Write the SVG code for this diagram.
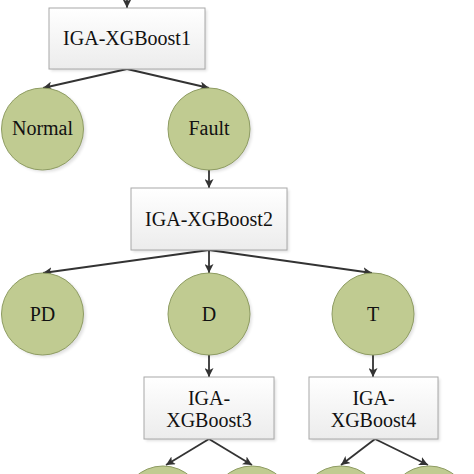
<svg xmlns="http://www.w3.org/2000/svg" width="474" height="474" viewBox="0 0 474 474">
<style>
.box{fill:url(#bg);stroke:#a8a8a8;stroke-width:1}
.circ{fill:#c0cb91;stroke:#8e9c62;stroke-width:1}
.sh{fill:#000;opacity:0.12}
text{font-family:"Liberation Serif","Times New Roman",serif;font-size:20px;fill:#111;text-anchor:middle}
.edge{stroke:#333;stroke-width:1.8;fill:none;marker-end:url(#ah)}
</style>
<defs>
<linearGradient id="bg" x1="0" y1="0" x2="0" y2="1">
<stop offset="0" stop-color="#ffffff"/>
<stop offset="1" stop-color="#ececec"/>
</linearGradient>
<marker id="ah" viewBox="0 0 10 10" refX="10" refY="5" markerWidth="9" markerHeight="9" markerUnits="userSpaceOnUse" orient="auto">
<path d="M0,0 L10,5 L0,10 L2.5,5 z" fill="#333"/>
</marker>
<filter id="blur" x="-20%" y="-20%" width="140%" height="140%"><feGaussianBlur stdDeviation="1.5"/></filter>
</defs>
<g id="connectors">
<line class="edge" x1="127" y1="-2" x2="127" y2="8"/>
<line class="edge" x1="127" y1="69" x2="43" y2="88"/>
<line class="edge" x1="127" y1="69" x2="209" y2="88"/>
<line class="edge" x1="209" y1="170" x2="209" y2="188"/>
<line class="edge" x1="209" y1="250" x2="43" y2="273"/>
<line class="edge" x1="209" y1="250" x2="209" y2="273"/>
<line class="edge" x1="209" y1="250" x2="372" y2="273"/>
<line class="edge" x1="209" y1="355" x2="209" y2="377"/>
<line class="edge" x1="373" y1="355" x2="373" y2="377"/>
<line class="edge" x1="209" y1="439" x2="166" y2="465"/>
<line class="edge" x1="209" y1="439" x2="252" y2="465"/>
<line class="edge" x1="375" y1="439" x2="341" y2="465"/>
<line class="edge" x1="375" y1="439" x2="428" y2="465"/>
</g>
<g id="box1">
<rect class="sh" x="51" y="10" width="156" height="61" filter="url(#blur)"/>
<rect class="box" x="49" y="8" width="156" height="61"/>
<text x="127" y="45">IGA-XGBoost1</text>
</g>
<g id="normal">
<circle class="sh" cx="45" cy="131" r="41" filter="url(#blur)"/>
<circle class="circ" cx="42.5" cy="129" r="41"/>
<text x="42.5" y="135">Normal</text>
</g>
<g id="fault">
<circle class="sh" cx="211" cy="131" r="41" filter="url(#blur)"/>
<circle class="circ" cx="209" cy="129" r="41"/>
<text x="209" y="135">Fault</text>
</g>
<g id="box2">
<rect class="sh" x="133" y="190" width="156" height="62" filter="url(#blur)"/>
<rect class="box" x="131" y="188" width="156" height="62"/>
<text x="209" y="226">IGA-XGBoost2</text>
</g>
<g id="pd">
<circle class="sh" cx="45" cy="316" r="41" filter="url(#blur)"/>
<circle class="circ" cx="42.5" cy="314" r="41"/>
<text x="42.5" y="321">PD</text>
</g>
<g id="d">
<circle class="sh" cx="211" cy="316" r="41" filter="url(#blur)"/>
<circle class="circ" cx="209" cy="314" r="41"/>
<text x="209" y="321">D</text>
</g>
<g id="t">
<circle class="sh" cx="375" cy="316" r="41" filter="url(#blur)"/>
<circle class="circ" cx="373" cy="314" r="41"/>
<text x="373" y="321">T</text>
</g>
<g id="box3">
<rect class="sh" x="146" y="379" width="130" height="62" filter="url(#blur)"/>
<rect class="box" x="144" y="377" width="130" height="62"/>
<text x="209" y="405">IGA-</text>
<text x="209" y="427">XGBoost3</text>
</g>
<g id="box4">
<rect class="sh" x="311" y="379" width="129" height="62" filter="url(#blur)"/>
<rect class="box" x="309" y="377" width="129" height="62"/>
<text x="373.5" y="405">IGA-</text>
<text x="373.5" y="427">XGBoost4</text>
</g>
<g id="leaf1"><circle class="circ" cx="163" cy="507" r="41"/></g>
<g id="leaf2"><circle class="circ" cx="252" cy="507" r="41"/></g>
<g id="leaf3"><circle class="circ" cx="341" cy="507" r="41"/></g>
<g id="leaf4"><circle class="circ" cx="429" cy="507" r="41"/></g>
</svg>
